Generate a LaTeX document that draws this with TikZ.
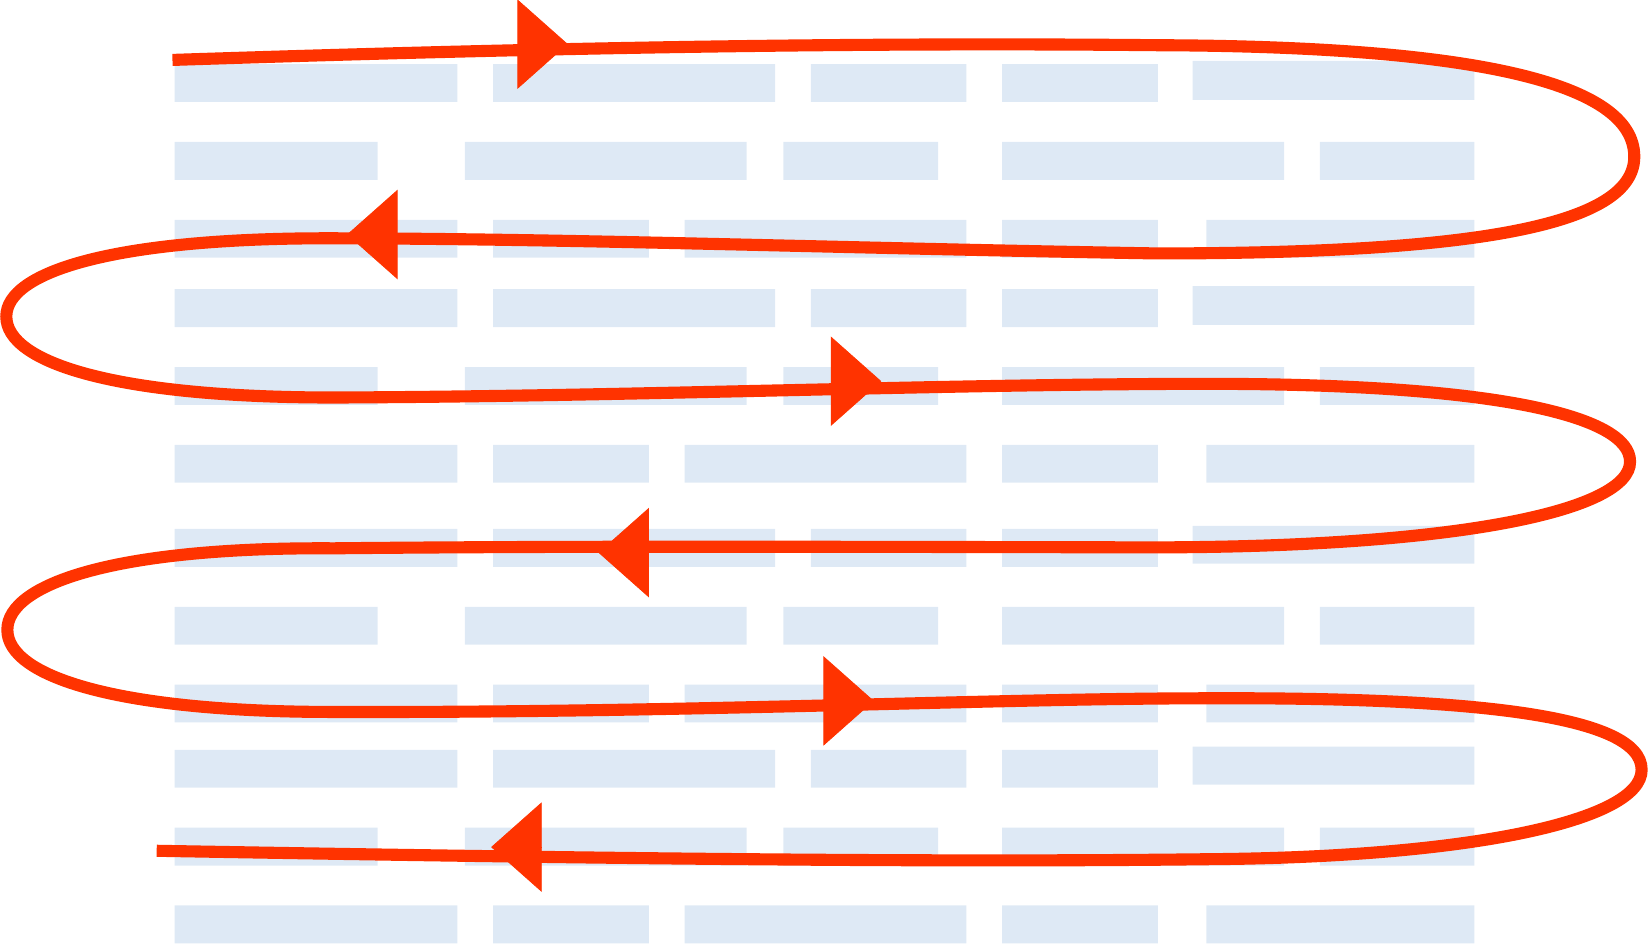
\documentclass[tikz,border=0pt]{standalone}
\usetikzlibrary{arrows.meta}
\definecolor{barblue}{RGB}{222,233,245}
\definecolor{flowred}{RGB}{255,51,0}

\begin{document}
\begin{tikzpicture}[x=0.01cm, y=-0.01cm,
      flow/.style={draw=flowred, line width=0.115cm},
      flowtip/.style={draw=flowred, line width=0.2pt,
        -{Triangle[length=0.48cm,width=0.85cm]}}]
    \tikzstyle{bar} = [fill=barblue]
    \useasboundingbox (0,0) rectangle (1568,898);
    % rows of text bars
    \fill[bar] (166,61) rectangle (435,97) (469,61) rectangle (737,97) (771,61) rectangle (919,97) (953,61) rectangle (1101,97) (1134,58) rectangle (1402,95);
    \fill[bar] (166,135) rectangle (359,171) (442,135) rectangle (710,171) (745,135) rectangle (892,171) (953,135) rectangle (1221,171) (1255,135) rectangle (1402,171);
    \fill[bar] (166,209) rectangle (435,245) (469,209) rectangle (617,245) (651,209) rectangle (919,245) (953,209) rectangle (1101,245) (1147,209) rectangle (1402,245);
    \fill[bar] (166,275) rectangle (435,311) (469,275) rectangle (737,311) (771,275) rectangle (919,311) (953,275) rectangle (1101,311) (1134,272) rectangle (1402,309);
    \fill[bar] (166,349) rectangle (359,385) (442,349) rectangle (710,385) (745,349) rectangle (892,385) (953,349) rectangle (1221,385) (1255,349) rectangle (1402,385);
    \fill[bar] (166,423) rectangle (435,459) (469,423) rectangle (617,459) (651,423) rectangle (919,459) (953,423) rectangle (1101,459) (1147,423) rectangle (1402,459);
    \fill[bar] (166,503) rectangle (435,539) (469,503) rectangle (737,539) (771,503) rectangle (919,539) (953,503) rectangle (1101,539) (1134,500) rectangle (1402,536);
    \fill[bar] (166,577) rectangle (359,613) (442,577) rectangle (710,613) (745,577) rectangle (892,613) (953,577) rectangle (1221,613) (1255,577) rectangle (1402,613);
    \fill[bar] (166,651) rectangle (435,687) (469,651) rectangle (617,687) (651,651) rectangle (919,687) (953,651) rectangle (1101,687) (1147,651) rectangle (1402,687);
    \fill[bar] (166,713) rectangle (435,749) (469,713) rectangle (737,749) (771,713) rectangle (919,749) (953,713) rectangle (1101,749) (1134,710) rectangle (1402,746);
    \fill[bar] (166,787) rectangle (359,823) (442,787) rectangle (710,823) (745,787) rectangle (892,823) (953,787) rectangle (1221,823) (1255,787) rectangle (1402,823);
    \fill[bar] (166,861) rectangle (435,897) (469,861) rectangle (617,897) (651,861) rectangle (919,897) (953,861) rectangle (1101,897) (1147,861) rectangle (1402,897);
    % reading path
    \draw[flow] (164,57) .. controls (500,46) and (800,40) .. (1100,43)
      .. controls (1400,44) and (1554,78) .. (1554,149)
      .. controls (1554,215) and (1400,241) .. (1100,241)
      .. controls (800,236) and (550,227) .. (317,226.6)
      .. controls (110,226) and (6,258) .. (6,301)
      .. controls (6,345) and (110,378) .. (317,378)
      .. controls (600,377) and (900,365) .. (1150,365)
      .. controls (1420,365) and (1550,395) .. (1550,439)
      .. controls (1550,485) and (1390,520) .. (1100,520.5)
      .. controls (800,520) and (550,519) .. (317,521.4)
      .. controls (110,520) and (7,555) .. (7,599)
      .. controls (7,643) and (110,677) .. (317,677)
      .. controls (650,678) and (950,664) .. (1150,664)
      .. controls (1400,663) and (1561,680) .. (1561,732)
      .. controls (1561,780) and (1400,815) .. (1150,817)
      .. controls (900,820) and (600,817) .. (149,809);
    \draw[flowtip] (492,42) -- (540,42);
    \draw[flowtip] (378,223) -- (330,223);
    \draw[flowtip] (790,362.5) -- (838,362.5);
    \draw[flowtip] (617,525.5) -- (569,525.5);
    \draw[flowtip] (783,666.5) -- (831,666.5);
    \draw[flowtip] (515,805.5) -- (467,805.5);
\end{tikzpicture}
\end{document}
